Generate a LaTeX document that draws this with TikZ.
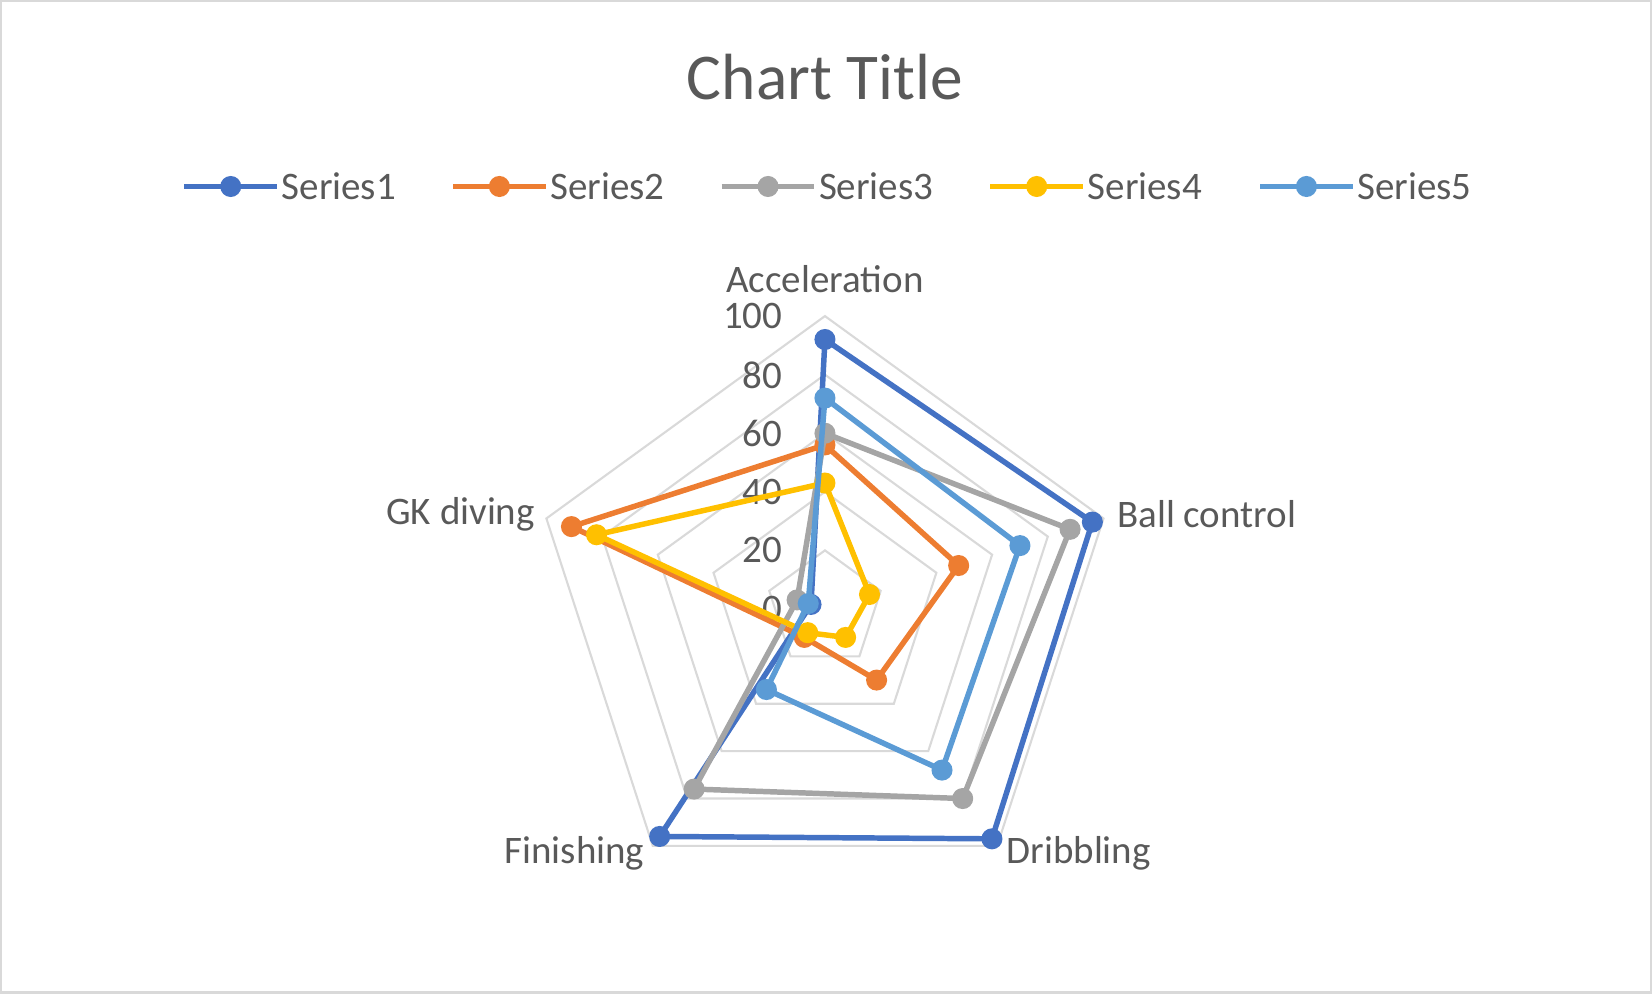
\documentclass[tikz,border=0pt]{standalone}
\usepackage{fontspec}
\setmainfont{Carlito}
\definecolor{txt}{HTML}{595959}
\definecolor{grid}{HTML}{D9D9D9}
\definecolor{sA}{HTML}{4472C4}
\definecolor{sB}{HTML}{ED7D31}
\definecolor{sC}{HTML}{A5A5A5}
\definecolor{sD}{HTML}{FFC000}
\definecolor{sE}{HTML}{5B9BD5}
\tikzset{lbl/.style={text=txt,font=\fontsize{18.5}{20}\selectfont,inner sep=1pt},
ser/.style={line width=2.6pt,line join=round}}
\begin{document}
\begin{tikzpicture}[x=0.5pt,y=-0.5pt]
\useasboundingbox (0,0) rectangle (1568,943);
\draw[grid,line width=1pt] (1,1) rectangle (1567,942);
\node[text=txt,font=\fontsize{31}{34}\selectfont] (title) at (783,73) {Chart Title};
% grid
\foreach \k in {1,...,5}{
  \draw[grid,line width=1pt] ({783+55.6*\k*cos(90)},{578-55.6*\k*sin(90)})
  -- ({783+55.6*\k*cos(18)},{578-55.6*\k*sin(18)})
  -- ({783+55.6*\k*cos(-54)},{578-55.6*\k*sin(-54)})
  -- ({783+55.6*\k*cos(-126)},{578-55.6*\k*sin(-126)})
  -- ({783+55.6*\k*cos(162)},{578-55.6*\k*sin(162)}) -- cycle;
}
\foreach \v/\y in {0/578,20/522,40/467,60/411,80/356,100/300}
  \node[lbl,anchor=east] (t\v) at (745,\y) {\v};
\node[lbl,anchor=south] (la) at (783,280) {Acceleration};
\node[lbl,anchor=west] (lb) at (1058,488) {Ball control};
\node[lbl,anchor=west] (lc) at (953,810) {Dribbling};
\node[lbl,anchor=east] (ld) at (614,810) {Finishing};
\node[lbl,anchor=east] (le) at (510,488) {GK diving};
% series
\foreach \c/\a/\b/\d/\f/\g in {sA/92/96/97/96/5, sB/56/48/30/12/91, sC/60/88/80/76/10, sD/43/16/12/10/82, sE/72/70/68/34/6}{
  \coordinate (p1) at ({783+2.78*\a*cos(90)},{578-2.78*\a*sin(90)});
  \coordinate (p2) at ({783+2.78*\b*cos(18)},{578-2.78*\b*sin(18)});
  \coordinate (p3) at ({783+2.78*\d*cos(-54)},{578-2.78*\d*sin(-54)});
  \coordinate (p4) at ({783+2.78*\f*cos(-126)},{578-2.78*\f*sin(-126)});
  \coordinate (p5) at ({783+2.78*\g*cos(162)},{578-2.78*\g*sin(162)});
  \draw[ser,\c] (p1) -- (p2) -- (p3) -- (p4) -- (p5) -- cycle;
  \foreach \p in {p1,p2,p3,p4,p5} \fill[\c] (\p) circle (10);
}
% legend
\foreach \c/\x/\n in {sA/175/Series1, sB/430/Series2, sC/685/Series3, sD/940/Series4, sE/1196/Series5}{
  \coordinate (m\n) at (\x+44,177);
  \draw[ser,\c] (\x,177) -- (\x+88,177);
  \fill[\c] (m\n) circle (10);
  \node[lbl,anchor=west] (l\n) at (\x+90,177) {\n};
}
\end{tikzpicture}
\end{document}
